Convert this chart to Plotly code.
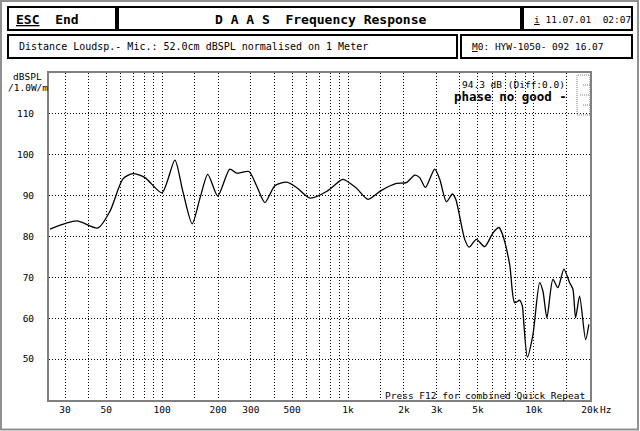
import math
import plotly.graph_objects as go

# ---- data ----
freq_hz = [24.9, 34.7, 45.1, 52.4, 61.5, 69.6, 80.8, 99.7, 117, 129, 145, 160, 176, 199,
           231, 251, 293, 322, 357, 404, 467, 528, 623, 766, 903, 940, 1100, 1282, 1513,
           1822, 2062, 2285, 2430, 2609, 2926, 3114, 3384, 3644, 3798, 4244, 4477, 4905,
           5435, 6028, 6487, 6765, 7406, 7880, 8383, 8667, 8808, 9222, 9883, 10737, 11185,
           11750, 12656, 13464, 14502, 15566, 16215, 16766, 17619, 18975, 19765]
spl_db = [81.8, 83.8, 82.1, 86.2, 94.1, 95.4, 94.4, 90.7, 98.7, 91.1, 83.1, 89.5, 95.2, 89.9,
          96.5, 95.5, 95.9, 92.4, 88.3, 92.4, 93.3, 92.0, 89.4, 91.0, 93.6, 94.0, 92.0, 89.1, 91.3,
          93.0, 93.2, 95.0, 94.4, 92.0, 96.5, 94.0, 88.5, 90.4, 89.1, 79.3, 77.4, 79.3,
          77.5, 80.9, 82.2, 80.6, 73.2, 63.8, 64.4, 63.0, 59.3, 50.5, 56.0, 68.7, 66.6,
          60.1, 69.5, 67.5, 72.0, 68.7, 67.1, 60.1, 65.4, 54.8, 58.5]

y_ticks = [50, 60, 70, 80, 90, 100, 110]
x_grid = [30, 40, 50, 60, 70, 80, 90, 100, 150, 200, 300, 400, 500, 600, 700, 800, 900,
          1000, 1500, 2000, 3000, 4000, 5000, 6000, 7000, 8000, 9000, 10000, 15000, 20000]
x_labels = {30: "30", 50: "50", 100: "100", 200: "200", 300: "300", 500: "500",
            1000: "1k", 2000: "2k", 3000: "3k", 5000: "5k", 10000: "10k", 20000: "20k"}

# ---- geometry ----
W, H = 640, 431
L, R, T, B = 49, 590, 73, 400


def px(x):
    return (x - L) / (R - L)


def py(y):
    return (B - y) / (B - T)


MONO = "DejaVu Sans Mono"
FS = 9.5
BFS = 13

fig = go.Figure()
fig.add_trace(go.Scatter(x=freq_hz, y=spl_db, mode="lines",
                         line=dict(color="black", width=1.3, shape="spline", smoothing=0.7),
                         hoverinfo="skip", showlegend=False))

fig.update_layout(
    width=W, height=H,
    margin=dict(l=L, r=W - R, t=T, b=H - B),
    paper_bgcolor="white", plot_bgcolor="white",
    font=dict(family=MONO, size=FS, color="black"),
    showlegend=False,
)
fig.update_xaxes(
    type="log", range=[math.log10(24.6), math.log10(20040)],
    tickvals=x_grid, ticktext=[x_labels.get(v, "") for v in x_grid],
    tickangle=0,
    showgrid=True, gridcolor="black", gridwidth=1, griddash="1px,2px",
    showline=True, linecolor="#808080", linewidth=2, mirror=True,
    ticks="", ticklabelstandoff=0, zeroline=False,
    tickfont=dict(family=MONO, size=FS, color="black"),
)
fig.update_yaxes(
    range=[40, 120], tickvals=y_ticks, ticktext=[str(v) for v in y_ticks],
    showgrid=True, gridcolor="black", gridwidth=1, griddash="1px,2px",
    showline=True, linecolor="#808080", linewidth=2, mirror=True,
    ticks="", ticklabelstandoff=11, zeroline=False,
    tickfont=dict(family=MONO, size=FS, color="black"),
)

shapes = []
# outer dithered frame
shapes.append(dict(type="rect", xref="paper", yref="paper",
                   x0=px(1), x1=px(638), y0=py(429.5), y1=py(1),
                   line=dict(color="#909090", width=2)))
# header boxes
for (x0, y0, x1, y1) in [(8, 7, 116, 30), (118, 7, 521, 30), (523, 7, 632, 30),
                         (8, 35, 457, 58), (461, 35, 632, 58)]:
    shapes.append(dict(type="rect", xref="paper", yref="paper",
                       x0=px(x0), x1=px(x1), y0=py(y1), y1=py(y0),
                       line=dict(color="black", width=2)))
# small level indicator box in plot corner
shapes.append(dict(type="rect", xref="paper", yref="paper",
                   x0=px(577), x1=px(590), y0=py(115), y1=py(75),
                   line=dict(color="#808080", width=1, dash="1px,1px")))
for yy, xa in [(85, 583), (95, 580), (105, 583)]:
    shapes.append(dict(type="line", xref="paper", yref="paper",
                       x0=px(xa), x1=px(590), y0=py(yy), y1=py(yy),
                       line=dict(color="#808080", width=1, dash="1px,1px")))
fig.update_layout(shapes=shapes)


def ann(text, x, y, xanchor="center", size=FS, bold=False):
    t = f"<b>{text}</b>" if bold else text
    return dict(text=t, x=px(x), y=py(y), xref="paper", yref="paper",
                xanchor=xanchor, yanchor="middle", showarrow=False,
                font=dict(family=MONO, size=size, color="black"))


annotations = [
    ann("<u>ESC</u>  End", 14, 19, "left", BFS, True),
    ann("D A A S  Frequency Response", 320, 19, "center", BFS, True),
    ann("<u>i</u> 11.07.01  02:07", 532, 19, "left"),
    ann("Distance Loudsp.- Mic.: 52.0cm dBSPL normalised on 1 Meter", 17, 46.5, "left", 10),
    ann("<u>M</u>0: HYW-1050- 092 16.07", 470, 46.5, "left"),
    ann("dBSPL", 27, 77),
    ann("/1.0W/m", 28, 87),
    ann("94.3 dB (Diff:0.0)", 567, 84, "right"),
    ann("phase no good -", 569, 96, "right", 12.5, True),
    ann("Press F12 for combined Quick Repeat", 587, 395, "right"),
    ann("Hz", 598, 409, "left"),
]
fig.update_layout(annotations=annotations)

fig.write_html("out.html", config={"displayModeBar": False},
               post_script="document.body.style.margin='0';")
